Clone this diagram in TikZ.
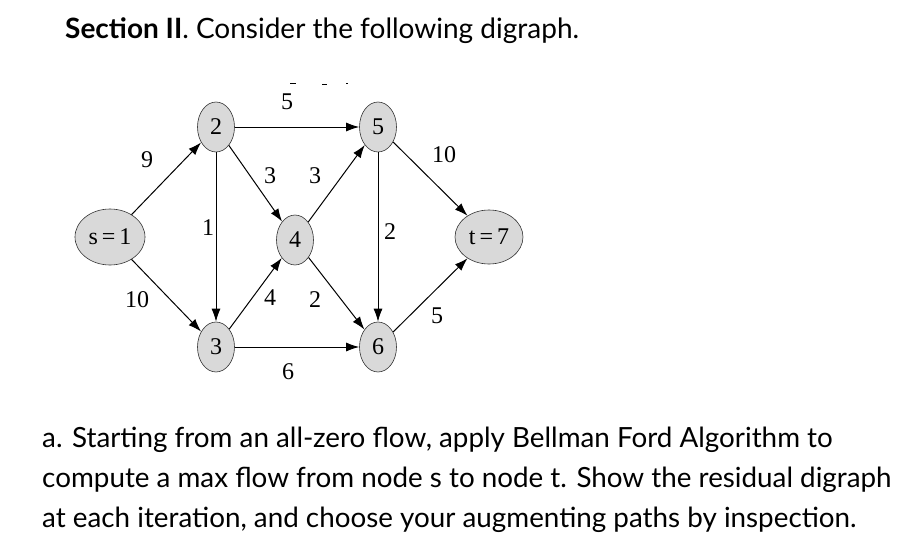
\documentclass[tikz,border=0pt]{standalone}
\usepackage{fontspec}
\setmainfont{Lato}
\newfontfamily\gser{Liberation Serif}
\usetikzlibrary{arrows.meta,shapes.geometric}
\begin{document}
\begin{tikzpicture}[x=1pt,y=-1pt,
  vtx/.style={ellipse,draw=black!80,line width=0.6pt,fill=black!15,inner sep=0pt,font=\gser\fontsize{24}{24}\selectfont},
  edg/.style={-{Latex[length=13pt,width=9pt]},line width=1pt},
  wl/.style={font=\gser\fontsize{24}{24}\selectfont,inner sep=0pt},
  txt/.style={anchor=base west,inner sep=0pt,font=\fontsize{27.8}{27.8}\selectfont}]
\useasboundingbox (0,0) rectangle (898,538);
\node[txt,font=\fontsize{28}{28}\selectfont] (title) at (65,38) {\textbf{Section II}. Consider the following digraph.};
\node[vtx,minimum width=70pt,minimum height=56pt] (s) at (110,237) {s\,=\,1};
\node[vtx,minimum width=37pt,minimum height=50pt] (n2) at (216,127) {2};
\node[vtx,minimum width=37pt,minimum height=50pt] (n5) at (378,127) {5};
\node[vtx,minimum width=37pt,minimum height=50pt] (n4) at (295,240) {4};
\node[vtx,minimum width=37pt,minimum height=50pt] (n3) at (216,347) {3};
\node[vtx,minimum width=37pt,minimum height=50pt] (n6) at (378,347) {6};
\node[vtx,minimum width=68pt,minimum height=54pt] (t) at (489,237) {t\,=\,7};
\draw[edg] (s) -- (n2);
\draw[edg] (s) -- (n3);
\draw[edg] (n2) -- (n5);
\draw[edg] (n2) -- (n3);
\draw[edg] (n2) -- (n4);
\draw[edg] (n4) -- (n5);
\draw[edg] (n3) -- (n4);
\draw[edg] (n4) -- (n6);
\draw[edg] (n5) -- (n6);
\draw[edg] (n3) -- (n6);
\draw[edg] (n5) -- (t);
\draw[edg] (n6) -- (t);
\node[wl] (l1) at (147,160) {9};
\node[wl] (l2) at (137,300) {10};
\node[wl] (l3) at (287,102) {5};
\node[wl] (l4) at (208,228) {1};
\node[wl] (l5) at (270,176) {3};
\node[wl] (l6) at (315,176) {3};
\node[wl] (l7) at (390,232) {2};
\node[wl] (l8) at (444,155) {10};
\node[wl] (l9) at (270,298) {4};
\node[wl] (l10) at (315,300) {2};
\node[wl] (l11) at (437,316) {5};
\node[wl] (l12) at (288,372) {6};
\draw[line width=0.8pt] (290,83) -- (296,83) (322,84) -- (327,84) (346,83) -- (348,83);
\node[txt] (a1) at (42,447) {a. Starting from an all-zero flow, apply Bellman Ford Algorithm to};
\node[txt] (a2) at (42,487) {compute a max flow from node s to node t. Show the residual digraph};
\node[txt] (a3) at (42,527) {at each iteration, and choose your augmenting paths by inspection.};
\end{tikzpicture}
\end{document}
